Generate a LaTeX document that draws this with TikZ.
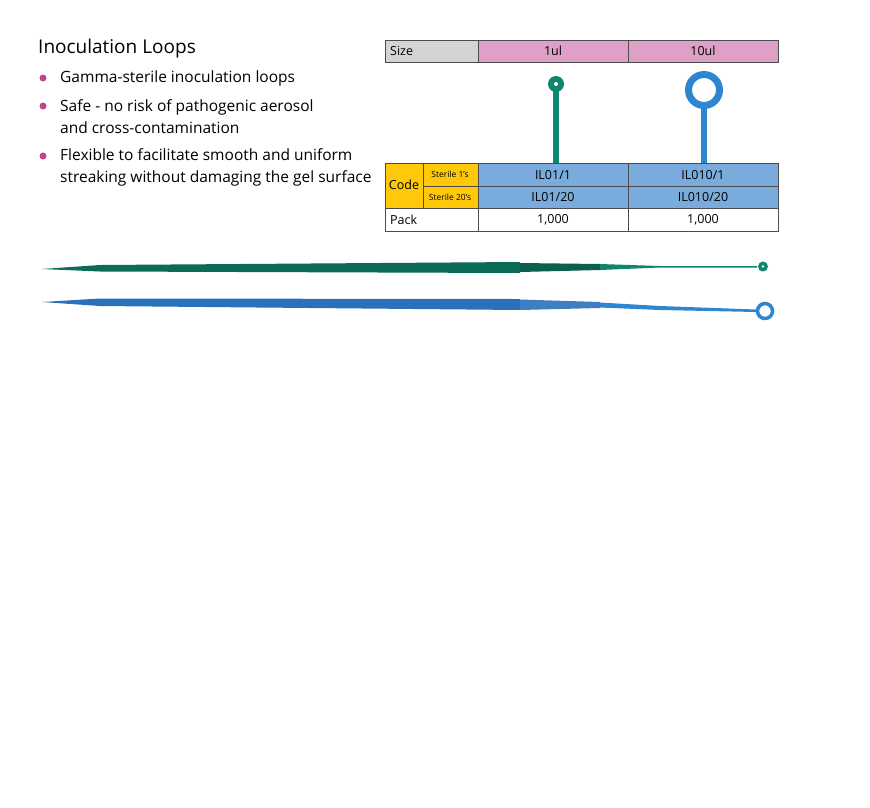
\documentclass[tikz,border=0pt]{standalone}
\usepackage{fontspec}
\setmainfont{Open Sans}
\definecolor{pinkc}{HTML}{DFA0C8}
\definecolor{grayc}{HTML}{D4D4D4}
\definecolor{bluec}{HTML}{79ACDC}
\definecolor{yel}{HTML}{FFC90A}
\definecolor{bul}{HTML}{C2448E}
\definecolor{grn}{HTML}{0F8570}
\definecolor{dgrn}{HTML}{0C6A58}
\definecolor{lblue}{HTML}{2F86D0}
\definecolor{dblue}{HTML}{2A70BA}
\begin{document}
\begin{tikzpicture}[x=1pt,y=-1pt,
  cell/.style={draw=black!70,line width=0.6pt},
  txt/.style={font=\fontsize{12.5}{15}\selectfont,inner sep=0pt},
  btxt/.style={font=\fontsize{15.5}{22}\selectfont,anchor=west,inner sep=0pt,align=left},
  bullet/.style={fill=bul,circle,inner sep=0pt,minimum size=7pt}]
\useasboundingbox (0,0) rectangle (870,807);
% left text
\node[anchor=west,inner sep=0pt,font=\fontsize{19}{22}\selectfont] (title) at (38,49) {Inoculation Loops};
\node[bullet] (b1) at (43,78) {};
\node[btxt] (t1) at (60,78) {Gamma-sterile inoculation loops};
\node[bullet] (b2) at (43,106) {};
\node[btxt] (t2) at (60,117) {Safe - no risk of pathogenic aerosol\\and cross-contamination};
\node[bullet] (b3) at (43,156) {};
\node[btxt] (t3) at (60,167) {Flexible to facilitate smooth and uniform\\streaking without damaging the gel surface};
% table
\fill[grayc] (385,40) rectangle (478,62);
\fill[pinkc] (478,40) rectangle (778,62);
\fill[yel] (385,163) rectangle (478,208);
\fill[bluec] (478,163) rectangle (778,208);
\fill[white] (385,208) rectangle (778,231);
\draw[cell] (385,40) rectangle (778,62);
\draw[cell] (478,40) -- (478,62) (628,40) -- (628,62);
\draw[cell] (385,163) rectangle (778,231);
\draw[cell] (423,163) -- (423,208) (478,163) -- (478,231) (628,163) -- (628,231);
\draw[cell] (423,186) -- (778,186) (385,208) -- (778,208);
\node[txt,anchor=west] (size) at (390,51) {Size};
\node[txt] (s1) at (553,51) {1ul};
\node[txt] (s2) at (703,51) {10ul};
\node[txt] (code) at (404,185) {Code};
\node[txt,font=\fontsize{8.5}{10}\selectfont] (st1) at (450,174) {Sterile 1’s};
\node[txt,font=\fontsize{8.5}{10}\selectfont] (st20) at (450,197) {Sterile 20’s};
\node[txt] (c11) at (553,175) {IL01/1};
\node[txt] (c12) at (703,175) {IL010/1};
\node[txt] (c21) at (553,197) {IL01/20};
\node[txt] (c22) at (703,197) {IL010/20};
\node[txt,anchor=west] (pack) at (390,220) {Pack};
\node[txt] (p1) at (553,220) {1,000};
\node[txt] (p2) at (703,220) {1,000};
% vertical loops
\fill[grn] (552.5,88) rectangle (558.5,163);
\fill[grn] (556,84) circle (8);
\fill[white] (556,84) circle (2);
\fill[lblue] (701,106) rectangle (707,163);
\draw[lblue,line width=7pt] (704,90) circle (15.5);
% horizontal loops
\fill[dgrn] (42,269) -- (100,265) -- (520,262) -- (520,273) -- (100,271.5) -- cycle;
\fill[dgrn!90!black] (520,263) -- (600,264) -- (600,270) -- (520,272) -- cycle;
\fill[grn] (600,264) -- (660,266) -- (757,266) -- (757,267.5) -- (660,267.5) -- (600,270) -- cycle;
\fill[grn] (763,266.5) circle (5);
\fill[white] (763,266.5) circle (1.3);
\fill[dblue] (42,302) -- (100,298.5) -- (520,299) -- (520,310) -- (100,306) -- cycle;
\fill[dblue!90!white] (520,299.5) -- (600,302) -- (600,308) -- (520,310) -- cycle;
\fill[lblue] (600,302.5) -- (660,306) -- (756,309.5) -- (756,312) -- (660,310) -- (600,307.5) -- cycle;
\draw[lblue,line width=3.5pt] (765,311) circle (7.5);
\end{tikzpicture}
\end{document}
